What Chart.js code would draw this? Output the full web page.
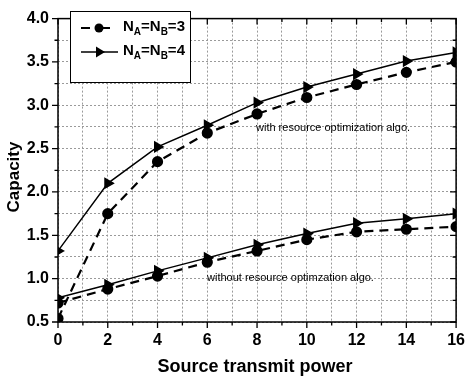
<!DOCTYPE html>
<html>
<head>
<meta charset="utf-8">
<script src="https://cdn.jsdelivr.net/npm/chart.js@4.4.0/dist/chart.umd.min.js"></script>
<style>
  html, body { margin: 0; padding: 0; background: #fff; }
  #wrap { width: 474px; height: 378px; }
</style>
</head>
<body>
<div id="wrap"><canvas id="capChart" width="474" height="378"></canvas></div>
<script>
// Source transmit power (x values)
const power = [0, 2, 4, 6, 8, 10, 12, 14, 16];

// with resource optimization algo.
const withN3 = [0.54, 1.75, 2.35, 2.68, 2.90, 3.09, 3.24, 3.38, 3.50];
const withN4 = [1.32, 2.10, 2.52, 2.77, 3.03, 3.21, 3.36, 3.51, 3.61];

// without resource optimzation algo.
const withoutN3 = [0.72, 0.88, 1.03, 1.19, 1.32, 1.45, 1.54, 1.57, 1.60];
const withoutN4 = [0.78, 0.93, 1.09, 1.24, 1.39, 1.52, 1.64, 1.69, 1.75];

const toPoints = ys => ys.map((y, i) => ({ x: power[i], y: y }));

const dashedStyle = {
    borderColor: '#000',
    backgroundColor: '#000',
    borderWidth: 2.2,
    borderDash: [9, 6],
    pointStyle: 'circle',
    pointRadius: 4.5,
    pointBackgroundColor: '#000',
    pointBorderColor: '#000',
    tension: 0
};
const solidStyle = {
    borderColor: '#000',
    backgroundColor: '#000',
    borderWidth: 1.5,
    pointStyle: 'triangle',
    pointRotation: 90,
    pointRadius: 5.5,
    pointBackgroundColor: '#000',
    pointBorderColor: '#000',
    tension: 0
};

// frame, minor/major ticks, titles, legend and notes
const decorations = {
    id: 'decorations',
    afterDraw(chart) {
        const ctx = chart.ctx;
        const a = chart.chartArea;
        const xs = chart.scales.x;
        const ys = chart.scales.y;
        ctx.save();
        ctx.strokeStyle = '#000';
        ctx.lineWidth = 1.5;
        ctx.setLineDash([]);
        ctx.strokeRect(a.left, a.top, a.right - a.left, a.bottom - a.top);

        ctx.lineWidth = 1.3;
        ctx.beginPath();
        for (let v = 0; v <= 16; v++) {
            const px = xs.getPixelForValue(v);
            const len = v % 2 === 0 ? 6 : 3.5;
            ctx.moveTo(px, a.bottom); ctx.lineTo(px, a.bottom + len);
            ctx.moveTo(px, a.top); ctx.lineTo(px, a.top + len);
        }
        for (let v = 0.5; v <= 4.001; v += 0.25) {
            const py = ys.getPixelForValue(v);
            const len = Math.abs(v * 2 - Math.round(v * 2)) < 1e-6 ? 6 : 3.5;
            ctx.moveTo(a.left, py); ctx.lineTo(a.left - len, py);
            ctx.moveTo(a.right, py); ctx.lineTo(a.right - len, py);
        }
        ctx.stroke();

        // axis titles
        ctx.fillStyle = '#000';
        ctx.font = 'bold 18px "Liberation Sans", Arial, sans-serif';
        ctx.textAlign = 'center';
        ctx.textBaseline = 'middle';
        ctx.fillText('Source transmit power', (a.left + a.right) / 2 - 2, 367);
        ctx.save();
        ctx.translate(14, 177);
        ctx.rotate(-Math.PI / 2);
        ctx.font = 'bold 17px "Liberation Sans", Arial, sans-serif';
        ctx.fillText('Capacity', 0, 0);
        ctx.restore();

        // notes
        ctx.font = '11px "Liberation Sans", Arial, sans-serif';
        ctx.textAlign = 'left';
        ctx.fillText('with resource optimization algo.', 256, 128);
        ctx.fillText('without resource optimzation algo.', 207, 278);

        // legend box
        ctx.fillStyle = '#fff';
        ctx.fillRect(70, 11, 120, 72);
        ctx.strokeStyle = '#000';
        ctx.lineWidth = 1;
        ctx.strokeRect(70.5, 11.5, 120, 71);

        const drawLabel = (num, y) => {
            let x = 123;
            const big = 'bold 15px "Liberation Sans", Arial, sans-serif';
            const small = 'bold 10px "Liberation Sans", Arial, sans-serif';
            const parts = [['N', big, 0], ['A', small, 5], ['=N', big, 0], ['B', small, 5], ['=' + num, big, 0]];
            ctx.fillStyle = '#000';
            ctx.textBaseline = 'middle';
            ctx.textAlign = 'left';
            parts.forEach(p => {
                ctx.font = p[1];
                ctx.fillText(p[0], x, y + p[2]);
                x += ctx.measureText(p[0]).width;
            });
        };

        // entry 1: dashed + circle
        ctx.lineWidth = 2.2;
        ctx.beginPath();
        ctx.moveTo(81, 28); ctx.lineTo(90, 28);
        ctx.moveTo(103, 28); ctx.lineTo(110, 28);
        ctx.stroke();
        ctx.fillStyle = '#000';
        ctx.beginPath();
        ctx.arc(99, 28, 4.5, 0, Math.PI * 2);
        ctx.fill();
        drawLabel(3, 27);

        // entry 2: solid + triangle
        ctx.lineWidth = 1.5;
        ctx.beginPath();
        ctx.moveTo(81, 52); ctx.lineTo(118, 52);
        ctx.stroke();
        ctx.beginPath();
        ctx.moveTo(105, 52); ctx.lineTo(96, 46.5); ctx.lineTo(96, 57.5);
        ctx.closePath();
        ctx.fill();
        drawLabel(4, 51);

        ctx.restore();
    }
};

const tickFont = { family: '"Liberation Sans", Arial, sans-serif', size: 16, weight: 'bold' };

new Chart(document.getElementById('capChart'), {
    type: 'line',
    data: {
        datasets: [
            Object.assign({ label: 'NA=NB=3 with', data: toPoints(withN3) }, dashedStyle),
            Object.assign({ label: 'NA=NB=4 with', data: toPoints(withN4) }, solidStyle),
            Object.assign({ label: 'NA=NB=3 without', data: toPoints(withoutN3) }, dashedStyle),
            Object.assign({ label: 'NA=NB=4 without', data: toPoints(withoutN4) }, solidStyle)
        ]
    },
    options: {
        responsive: false,
        animation: false,
        layout: { padding: { top: 8, right: 8, left: 0, bottom: 0 } },
        plugins: {
            legend: { display: false },
            tooltip: { enabled: false }
        },
        scales: {
            x: {
                type: 'linear',
                min: 0,
                max: 16,
                afterFit: s => { s.height = 56; },
                grid: { color: '#9a9a9a', lineWidth: 1, drawTicks: false },
                border: { display: false, dash: [2, 2] },
                ticks: {
                    stepSize: 1,
                    autoSkip: false,
                    maxRotation: 0,
                    padding: 9,
                    color: '#000',
                    font: tickFont,
                    callback: v => (v % 2 === 0 ? String(v) : '')
                }
            },
            y: {
                min: 0.5,
                max: 4.0,
                afterFit: s => { s.width = 58; },
                grid: { color: '#9a9a9a', lineWidth: 1, drawTicks: false },
                border: { display: false, dash: [2, 2] },
                ticks: {
                    stepSize: 0.25,
                    autoSkip: false,
                    padding: 9,
                    color: '#000',
                    font: tickFont,
                    callback: v => (Math.abs(v * 2 - Math.round(v * 2)) < 1e-6 ? v.toFixed(1) : '')
                }
            }
        }
    },
    plugins: [decorations]
});
</script>
</body>
</html>
